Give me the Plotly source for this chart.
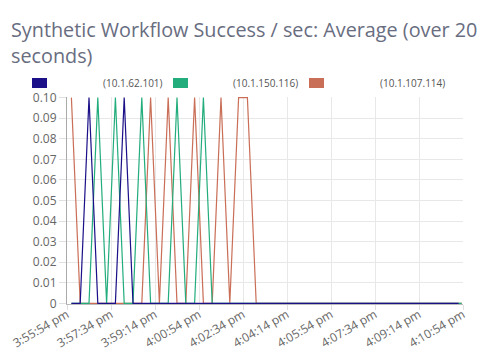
import plotly.graph_objects as go
from datetime import datetime, timedelta

# ---- data ----
start_time = "2023-01-01 15:56:04"
step_seconds = 20
series_names = ["(10.1.62.101)", "(10.1.150.116)", "(10.1.107.114)"]
series_colors = ["#1b1088", "#23ad7c", "#c96e57"]

blue_vals = [0, 0, 0.1, 0, 0, 0, 0.1, 0, 0, 0,
             0, 0, 0, 0, 0, 0, 0, 0, 0, 0,
             0, 0, 0, 0, 0, 0, 0, 0, 0, 0,
             0, 0, 0, 0, 0, 0, 0, 0, 0, 0,
             0, 0, 0, 0, 0]
green_vals = [0, 0, 0, 0.1, 0, 0.1, 0, 0, 0.1, 0,
              0, 0, 0.1, 0, 0, 0.1, 0, 0, 0, 0,
              0, 0, 0, 0, 0, 0, 0, 0, 0, 0,
              0, 0, 0, 0, 0, 0, 0, 0, 0, 0,
              0, 0, 0, 0, 0, 0]
orange_vals = [0.1, 0, 0, 0, 0, 0, 0, 0, 0, 0.1,
               0, 0.1, 0, 0, 0.1, 0, 0, 0.1, 0, 0.1,
               0.1, 0, 0, 0, 0, 0, 0, 0, 0, 0,
               0, 0, 0, 0, 0, 0, 0, 0, 0, 0,
               0, 0, 0, 0, 0, 0]
last_time = "2023-01-01 16:10:51"

x_tick_vals = ["2023-01-01 15:55:54", "2023-01-01 15:57:34", "2023-01-01 15:59:14",
               "2023-01-01 16:00:54", "2023-01-01 16:02:34", "2023-01-01 16:04:14",
               "2023-01-01 16:05:54", "2023-01-01 16:07:34", "2023-01-01 16:09:14",
               "2023-01-01 16:10:54"]
x_tick_text = ["3:55:54 pm", "3:57:34 pm", "3:59:14 pm", "4:00:54 pm", "4:02:34 pm",
               "4:04:14 pm", "4:05:54 pm", "4:07:34 pm", "4:09:14 pm", "4:10:54 pm"]
y_tick_vals = [0, 0.01, 0.02, 0.03, 0.04, 0.05, 0.06, 0.07, 0.08, 0.09, 0.10]
y_tick_text = ["0", "0.01", "0.02", "0.03", "0.04", "0.05", "0.06", "0.07", "0.08", "0.09", "0.10"]
title_text = "Synthetic Workflow Success / sec: Average (over 20<br>seconds)"


def times(n):
    t0 = datetime.strptime(start_time, "%Y-%m-%d %H:%M:%S")
    out = [t0 + timedelta(seconds=step_seconds * i) for i in range(n)]
    return out


def times_with_last(n):
    out = times(n - 1)
    out.append(datetime.strptime(last_time, "%Y-%m-%d %H:%M:%S"))
    return out


fig = go.Figure()
fig.add_trace(go.Scatter(x=times_with_last(len(orange_vals)), y=orange_vals, mode="lines",
                         line=dict(color=series_colors[2], width=1.2), name=series_names[2]))
fig.add_trace(go.Scatter(x=times_with_last(len(green_vals)), y=green_vals, mode="lines",
                         line=dict(color=series_colors[1], width=1.2), name=series_names[1]))
fig.add_trace(go.Scatter(x=times(len(blue_vals)), y=blue_vals, mode="lines",
                         line=dict(color=series_colors[0], width=1.2), name=series_names[0]))

# plot-area geometry (pixels)
PL, PR, PT, PB = 67, 463, 97, 304
PW, PH = PR - PL, PB - PT

# custom legend (squares + labels)
legend_sq_x = [32, 173, 309]
legend_txt_right = [165, 300, 447]
shapes = []
annotations = []
for i in range(3):
    shapes.append(dict(type="rect", xref="paper", yref="paper",
                       x0=(legend_sq_x[i] - PL) / PW, x1=(legend_sq_x[i] + 15 - PL) / PW,
                       y0=(PB - 88) / PH, y1=(PB - 78) / PH,
                       fillcolor=series_colors[i], line=dict(width=0)))
    annotations.append(dict(xref="paper", yref="paper",
                            x=(legend_txt_right[i] - PL) / PW, y=(PB - 83) / PH,
                            xanchor="right", yanchor="middle", showarrow=False,
                            text=series_names[i], font=dict(size=10, color="#555555")))

fig.update_layout(
    width=500, height=355,
    margin=dict(l=PL, r=500 - PR, t=PT, b=355 - PB, autoexpand=False),
    paper_bgcolor="white", plot_bgcolor="white",
    showlegend=False,
    font=dict(family="Open Sans", color="#666666"),
    title=dict(text=title_text, x=11 / 500, xanchor="left", y=1 - 37 / 355, yanchor="top",
               font=dict(family="Open Sans", size=19.8, color="#686d7f")),
    shapes=shapes,
    annotations=annotations,
    xaxis=dict(range=[x_tick_vals[0], x_tick_vals[-1]], tickmode="array",
               tickvals=x_tick_vals, ticktext=x_tick_text, tickangle=-30,
               tickfont=dict(size=12, color="#666666"), automargin=False,
               ticklabelstandoff=-7,
               showgrid=True, gridcolor="#e8e8e8", gridwidth=1,
               ticks="outside", ticklen=5, tickcolor="#e0e0e0",
               showline=True, linecolor="#bbbbbb", zeroline=False),
    yaxis=dict(range=[-0.0003, 0.1003], tickmode="array",
               tickvals=y_tick_vals, ticktext=y_tick_text,
               tickfont=dict(size=12, color="#666666"), automargin=False,
               showgrid=True, gridcolor="#e8e8e8", gridwidth=1,
               ticks="outside", ticklen=7, tickcolor="#e0e0e0",
               showline=True, linecolor="#aaaaaa", zeroline=False),
)

fig.write_html("out.html", config={"displayModeBar": False},
               post_script="document.body.style.margin='0';")
